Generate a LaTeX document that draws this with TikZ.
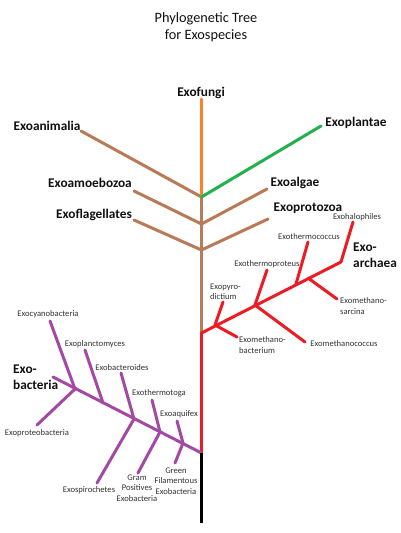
\documentclass[tikz,border=0pt]{standalone}
\usepackage{fontspec}
\setmainfont{Carlito}
\definecolor{cOrange}{HTML}{FF7F27}
\definecolor{cGreen}{HTML}{22B14C}
\definecolor{cBrown}{HTML}{B97A57}
\definecolor{cRed}{HTML}{ED1C24}
\definecolor{cPurple}{HTML}{A349A4}
\definecolor{txt}{HTML}{111111}
\definecolor{txtsm}{HTML}{333333}
\begin{document}
\begin{tikzpicture}[x=1pt,y=-1pt,
  br/.style={line width=3pt, line cap=round, line join=round},
  big/.style={font=\fontsize{13.3}{15}\selectfont\bfseries, text=txt, inner sep=0pt},
  sm/.style={font=\fontsize{8.6}{10.3}\selectfont, text=txtsm, inner sep=0pt},
  ttl/.style={font=\fontsize{14.3}{17}\selectfont, text=txt, inner sep=0pt, align=center}]
\useasboundingbox[fill=white] (0,0) rectangle (400,533);

% title
\node[ttl] (title) at (206,27) {Phylogenetic Tree\\for Exospecies};

% trunk coordinates
\coordinate (tBottom) at (201.5,523);
\coordinate (jBac) at (201.5,453);
\coordinate (jArc) at (201.5,333);
\coordinate (jB2) at (201.5,250);
\coordinate (jB1) at (201.5,224);
\coordinate (jTop) at (201.5,197);
\coordinate (tFungi) at (201.5,99);

% eukaryote tips
\coordinate (tAnimalia) at (81,131);
\coordinate (tPlantae) at (321,126);
\coordinate (tAmoebozoa) at (134,191);
\coordinate (tAlgae) at (267,189);
\coordinate (tFlag) at (134,220);
\coordinate (tProto) at (268,219);

% archaea
\coordinate (a1) at (215,325);
\coordinate (a2) at (255,305);
\coordinate (a3) at (296,284);
\coordinate (a4) at (308,278);
\coordinate (a5) at (341,262);
\coordinate (tPyro) at (223,302);
\coordinate (tMBact) at (237,337);
\coordinate (tTProt) at (267,270);
\coordinate (tMCocc) at (305,342);
\coordinate (tTCocc) at (308,242);
\coordinate (tMSarc) at (337,299);
\coordinate (tHalo) at (353,222);

% bacteria
\coordinate (b1) at (183,443);
\coordinate (b2) at (160,432);
\coordinate (b3) at (134,419);
\coordinate (b4) at (103,403);
\coordinate (b5) at (75,389);
\coordinate (bEnd) at (53,377);
\coordinate (tAquifex) at (177,421);
\coordinate (tGreenF) at (175,463);
\coordinate (tTherm) at (152,400);
\coordinate (tGram) at (138,473);
\coordinate (tBactero) at (121,373);
\coordinate (tSpiro) at (97,483);
\coordinate (tPlanc) at (85,350);
\coordinate (tCyano) at (50,321);
\coordinate (tProteo) at (37,425);

% eukaryote branches
\draw[br, cBrown] (jTop) -- (jArc);
\draw[br, cBrown] (tAnimalia) -- (jTop);
\draw[br, cBrown] (tAmoebozoa) -- (jB1) -- (tAlgae);
\draw[br, cBrown] (tFlag) -- (jB2) -- (tProto);
\draw[br, cOrange] (tFungi) -- (jTop);
\draw[br, cGreen] (jTop) -- (tPlantae);

% archaea branches
\draw[br, cRed] (jArc) -- (jBac);
\draw[br, cRed] (jArc) -- (a5);
\draw[br, cRed] (tPyro) -- (a1) -- (tMBact);
\draw[br, cRed] (tTProt) -- (a2) -- (tMCocc);
\draw[br, cRed] (tTCocc) -- (a3);
\draw[br, cRed] (a4) -- (tMSarc);
\draw[br, cRed] (tHalo) -- (a5);

% bacteria branches
\draw[br, cPurple] (jBac) -- (bEnd);
\draw[br, cPurple] (tAquifex) -- (b1) -- (tGreenF);
\draw[br, cPurple] (tTherm) -- (b2) -- (tGram);
\draw[br, cPurple] (tBactero) -- (b3) -- (tSpiro);
\draw[br, cPurple] (tPlanc) -- (b4);
\draw[br, cPurple] (tCyano) -- (b5) -- (tProteo);

% root
\draw[br, black, line cap=butt] (jBac) -- (tBottom);

% big labels
\node[big] (lFungi) at (201,93) {Exofungi};
\node[big] (lAnimalia) at (47,126) {Exoanimalia};
\node[big] (lPlantae) at (356,123) {Exoplantae};
\node[big] (lAmoebozoa) at (90,183) {Exoamoebozoa};
\node[big] (lAlgae) at (295,183) {Exoalgae};
\node[big] (lFlag) at (94,215) {Exoflagellates};
\node[big] (lProto) at (308,208.5) {Exoprotozoa};
\node[big, align=left, anchor=west, font=\fontsize{13.3}{15.5}\selectfont\bfseries] (lArch) at (353,255) {Exo-\\archaea};
\node[big, align=left, anchor=west, font=\fontsize{13.3}{15.5}\selectfont\bfseries] (lBact) at (13,377) {Exo-\\bacteria};

% archaea labels
\node[sm, align=left, anchor=west] (lPyro) at (210,292) {Exopyro-\\dictium};
\node[sm, align=left, anchor=west] (lMBact) at (239,345) {Exomethano-\\bacterium};
\node[sm] (lTProt) at (267,264) {Exothermoproteus};
\node[sm] (lMCocc) at (344,344) {Exomethanococcus};
\node[sm] (lTCocc) at (309,237) {Exothermococcus};
\node[sm, align=left, anchor=west] (lMSarc) at (340,306) {Exomethano-\\sarcina};
\node[sm] (lHalo) at (357,217) {Exohalophiles};

% bacteria labels
\node[sm] (lCyano) at (48,314) {Exocyanobacteria};
\node[sm] (lPlanc) at (95,344) {Exoplanctomyces};
\node[sm] (lBactero) at (122,368) {Exobacteroides};
\node[sm] (lTherm) at (159,393) {Exothermotoga};
\node[sm] (lAquifex) at (179,414) {Exoaquifex};
\node[sm] (lProteo) at (37,433) {Exoproteobacteria};
\node[sm] (lSpiro) at (89,490) {Exospirochetes};
\node[sm, align=center] (lGram) at (137,488) {Gram\\Positives\\Exobacteria};
\node[sm, align=center] (lGreenF) at (176,481) {Green\\Filamentous\\Exobacteria};
\end{tikzpicture}
\end{document}
